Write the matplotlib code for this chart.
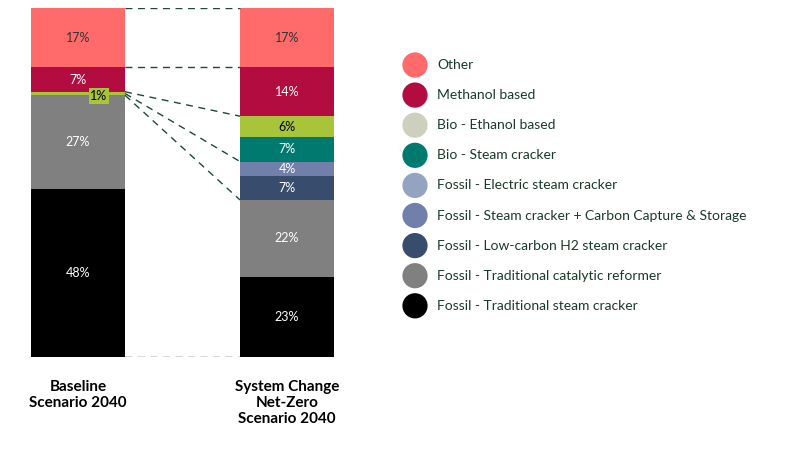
import matplotlib.pyplot as plt

plt.rcParams['font.family'] = ['Lato', 'DejaVu Sans']

# dados (de baixo para cima)
base_vals = [48, 27, 1, 7, 17]
base_cols = ['#000000', '#808080', '#a8c43a', '#b30c40', '#ff6b6b']
base_txt = ['white', 'white', 'black', 'white', '#333333']

net_vals = [23, 22, 7, 4, 7, 6, 14, 17]
net_cols = ['#000000', '#808080', '#384c6e', '#7080aa', '#007a6e', '#a8c43a', '#b30c40', '#ff6b6b']
net_txt = ['white', 'white', 'white', 'white', 'white', 'black', 'white', '#333333']

categorias = ['Baseline\nScenario 2040', 'System Change\nNet-Zero\nScenario 2040']

leg_labels = ['Other', 'Methanol based', 'Bio - Ethanol based', 'Bio - Steam cracker',
              'Fossil - Electric steam cracker', 'Fossil - Steam cracker + Carbon Capture & Storage',
              'Fossil - Low-carbon H2 steam cracker', 'Fossil - Traditional catalytic reformer',
              'Fossil - Traditional steam cracker']
leg_cols = ['#ff6b6b', '#b30c40', '#cdd0bd', '#007a6e', '#93a3c0', '#7080aa', '#384c6e', '#808080', '#000000']

fig = plt.figure(figsize=(8, 4.5), dpi=100)
ax = fig.add_axes([0, 93/450, 360/800, 349/450])
ax.set_xlim(0, 360)
ax.set_ylim(0, 100)
ax.axis('off')

x1, x2, w = 78, 287, 94
for x, vals, cols, tc in [(x1, base_vals, base_cols, base_txt), (x2, net_vals, net_cols, net_txt)]:
    bottom = 0
    for v, c, t in zip(vals, cols, tc):
        ax.bar(x, v, w, bottom=bottom, color=c, edgecolor='none')
        if x == x1 and v == 1:
            ax.text(x + 21, bottom + v/2 - 0.8, f'{v}%', ha='center', va='center', fontsize=9,
                    color=t, bbox=dict(boxstyle='square,pad=0.15', fc='#a8c43a', ec='none'))
        else:
            ax.text(x, bottom + v/2, f'{v}%', ha='center', va='center', fontsize=9, color=t)
        bottom += v

# linhas tracejadas
ligacoes = [(100, 100), (83, 83), (76, 69), (75.5, 56), (75, 45), (0, 0)]
for ya, yb in ligacoes:
    ax.plot([x1 + w/2, x2 - w/2], [ya, yb], ls=(0, (5, 4)), color='#1d4a35', lw=1)

fig.text(x1/800, 1 - 380/450, categorias[0], ha='center', va='top', fontsize=11, fontweight='bold')
fig.text(x2/800, 1 - 380/450, categorias[1], ha='center', va='top', fontsize=11, fontweight='bold')

# legenda
lax = fig.add_axes([0, 0, 1, 1])
lax.set_xlim(0, 800)
lax.set_ylim(450, 0)
lax.axis('off')
for i, (lab, c) in enumerate(zip(leg_labels, leg_cols)):
    y = 65 + i * 30.1
    lax.scatter(415, y, s=330, color=c, edgecolor='none')
    lax.text(437, y, lab, va='center', fontsize=10, color='#1a3a2a')

fig.savefig('out.png', dpi=100)
